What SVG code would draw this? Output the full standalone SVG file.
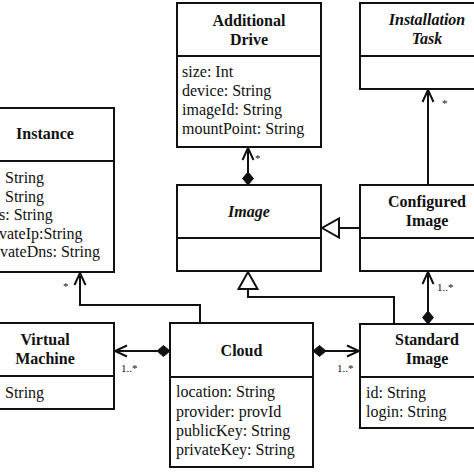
<svg xmlns="http://www.w3.org/2000/svg" width="474" height="474" viewBox="0 0 474 474">
<defs>
<style>
text{font-family:'Liberation Serif','Times New Roman','DejaVu Serif',serif}
.box{fill:#fff;stroke:#111;stroke-width:2}
.div{stroke:#111;stroke-width:2}
.t{font-size:16px;font-weight:bold;fill:#111;text-anchor:middle}
.ti{font-style:italic}
.a{font-size:16px;fill:#111}
.m{font-size:11px;fill:#111}
.c{fill:none;stroke:#111;stroke-width:2}
</style>
<marker id="arr" markerUnits="userSpaceOnUse" markerWidth="16" markerHeight="14" refX="14" refY="7" orient="auto" overflow="visible">
<path d="M2,1.5 L14,7 L2,12.5" fill="none" stroke="#111" stroke-width="2"/>
</marker>
<marker id="dia" markerUnits="userSpaceOnUse" markerWidth="14" markerHeight="12" refX="0" refY="6" orient="auto" overflow="visible">
<path d="M0,6 L6.5,0.5 L13,6 L6.5,11.5 Z" fill="#111" stroke="#111" stroke-width="1"/>
</marker>
<marker id="gen" markerUnits="userSpaceOnUse" markerWidth="20" markerHeight="22" refX="18" refY="10" orient="auto" overflow="visible">
<path d="M18,10 L1,0.5 L1,19.5 Z" fill="#fff" stroke="#111" stroke-width="2"/>
</marker>
</defs>

<g id="connectors">
<path class="c" d="M200,323 V305 H80 V273" marker-end="url(#arr)"/>
<path class="c" d="M170,351 H115" marker-start="url(#dia)" marker-end="url(#arr)"/>
<path class="c" d="M313,351 H359" marker-start="url(#dia)" marker-end="url(#arr)"/>
<path class="c" d="M248,185 V148" marker-start="url(#dia)" marker-end="url(#arr)"/>
<path class="c" d="M428,185 V90" marker-end="url(#arr)"/>
<path class="c" d="M360,228 H322" marker-end="url(#gen)"/>
<path class="c" d="M394,324 V297 H248 V272" marker-end="url(#gen)"/>
<path class="c" d="M428,324 V272" marker-start="url(#dia)" marker-end="url(#arr)"/>
<text class="m" x="63" y="290">*</text>
<text class="m" x="121" y="372">1..*</text>
<text class="m" x="337" y="372">1..*</text>
<text class="m" x="255" y="162">*</text>
<text class="m" x="442" y="107">*</text>
<text class="m" x="437" y="291">1..*</text>
</g>

<g id="instance">
<rect class="box" x="-25" y="108" width="139" height="164"/>
<line class="div" x1="-25" y1="161" x2="114" y2="161"/>
<text class="t" x="45" y="139">Instance</text>
<text class="a" x="5" y="183">String</text>
<text class="a" x="5" y="201.5">String</text>
<text class="a" x="-1" y="220">s: String</text>
<text class="a" x="-1" y="238.5">vateIp:String</text>
<text class="a" x="0" y="257">vateDns: String</text>
</g>

<g id="additional-drive">
<rect class="box" x="177" y="3" width="144" height="144"/>
<line class="div" x1="177" y1="56" x2="321" y2="56"/>
<text class="t" x="249" y="26">Additional</text>
<text class="t" x="249" y="45">Drive</text>
<text class="a" x="182" y="77">size: Int</text>
<text class="a" x="182" y="96">device: String</text>
<text class="a" x="182" y="115">imageId: String</text>
<text class="a" x="182" y="134">mountPoint: String</text>
</g>

<g id="installation-task">
<rect class="box" x="360" y="3" width="134" height="86"/>
<line class="div" x1="360" y1="56" x2="494" y2="56"/>
<text class="t ti" x="427" y="25">Installation</text>
<text class="t ti" x="427" y="44">Task</text>
</g>

<g id="image">
<rect class="box" x="177" y="185" width="144" height="86"/>
<line class="div" x1="177" y1="238" x2="321" y2="238"/>
<text class="t ti" x="249" y="217">Image</text>
</g>

<g id="configured-image">
<rect class="box" x="360" y="185" width="134" height="86"/>
<line class="div" x1="360" y1="238" x2="494" y2="238"/>
<text class="t" x="427" y="207">Configured</text>
<text class="t" x="427" y="226">Image</text>
</g>

<g id="virtual-machine">
<rect class="box" x="-25" y="323" width="139" height="86"/>
<line class="div" x1="-25" y1="376" x2="114" y2="376"/>
<text class="t" x="45" y="345">Virtual</text>
<text class="t" x="45" y="364">Machine</text>
<text class="a" x="5" y="398">String</text>
</g>

<g id="cloud">
<rect class="box" x="170" y="323" width="143" height="144"/>
<line class="div" x1="170" y1="377" x2="313" y2="377"/>
<text class="t" x="241.5" y="356">Cloud</text>
<text class="a" x="176" y="397">location: String</text>
<text class="a" x="176" y="416.5">provider: provId</text>
<text class="a" x="176" y="436">publicKey: String</text>
<text class="a" x="176" y="455">privateKey: String</text>
</g>

<g id="standard-image">
<rect class="box" x="360" y="324" width="134" height="104"/>
<line class="div" x1="360" y1="377" x2="494" y2="377"/>
<text class="t" x="427" y="345">Standard</text>
<text class="t" x="427" y="364">Image</text>
<text class="a" x="366" y="398">id: String</text>
<text class="a" x="366" y="417">login: String</text>
</g>
</svg>
